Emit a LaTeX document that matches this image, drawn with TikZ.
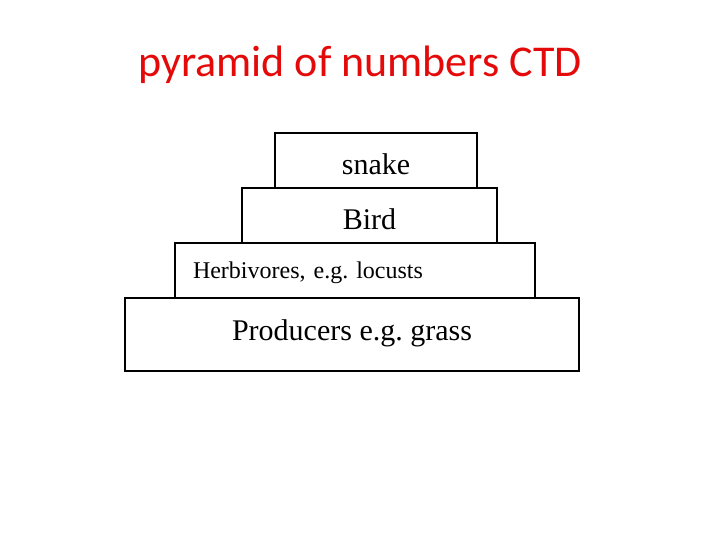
\documentclass[tikz,border=0pt]{standalone}
\usepackage{fontspec}
\setmainfont{Liberation Serif}
\newfontfamily\titlefont{Carlito}
\usepackage{tikz}
\usetikzlibrary{positioning}
\definecolor{titlered}{RGB}{228,10,10}
\tikzset{level/.style={draw, line width=1.2pt, inner sep=0pt, outer sep=0pt,
    font=\fontsize{30}{32}\selectfont}}
\frenchspacing

\begin{document}
\begin{tikzpicture}[x=1pt, y=1pt]
    \useasboundingbox (0,0) rectangle (720,540);

    \node[titlered, anchor=base, font=\titlefont\fontsize{44}{48}\selectfont]
      (title) at (360,463) {pyramid of numbers CTD};

    \node[level, minimum width=454pt, minimum height=73pt,
      text height=43pt, text depth=30pt
      ](producers) at (352,205.5) {Producers e.g. grass};

    \node[level, above=0pt of producers.north, xshift=3pt,
      minimum width=360pt, minimum height=55pt,
      inner xsep=18pt, text width=324pt, align=left,
      text height=36pt, text depth=19pt,
      font=\fontsize{24}{26}\selectfont
      ](herbivores) {Herbivores, e.g. locusts};

    \node[level, above=0pt of herbivores.north, xshift=14.5pt,
      minimum width=255pt, minimum height=55pt,
      text height=42pt, text depth=13pt
      ](bird) {Bird};

    \node[level, above=0pt of bird.north, xshift=6.5pt,
      minimum width=202pt, minimum height=55pt,
      text height=42pt, text depth=13pt
      ](snake) {snake};
\end{tikzpicture}
\end{document}
